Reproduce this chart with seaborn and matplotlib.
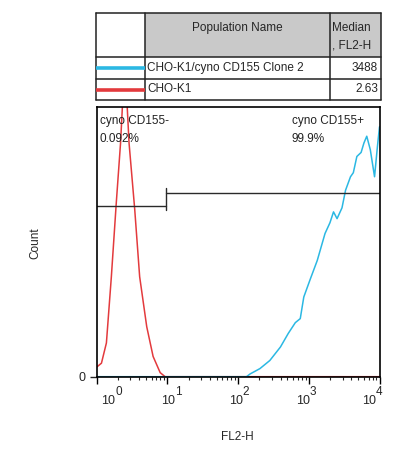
import matplotlib
matplotlib.use("Agg")
import matplotlib.pyplot as plt
import matplotlib.transforms as mtrans
from matplotlib.patches import Rectangle
from matplotlib.ticker import LogLocator, NullFormatter
import numpy as np
import pandas as pd
import seaborn as sns

# values: FL2-H as log10 position, count (axis top = 200)
red_log = [0.00, 0.07, 0.14, 0.21, 0.28, 0.34, 0.40, 0.46, 0.54, 0.61, 0.71, 0.80, 0.90, 0.97, 2.0, 4.0]
red_count = [7, 10, 25, 74, 129, 173, 235, 173, 124, 74, 37, 15, 3, 0, 0, 0]

blue_log = [0.0, 1.0, 2.0, 2.12, 2.17, 2.31, 2.45, 2.60, 2.71, 2.81, 2.88, 2.93, 3.02, 3.12,
            3.23, 3.30, 3.35, 3.40, 3.47, 3.52, 3.59, 3.63, 3.68, 3.74, 3.78, 3.82, 3.87,
            3.93, 3.97, 4.0]
blue_count = [0, 0, 0, 0, 2, 6, 12, 22, 32, 40, 43, 59, 72, 86, 106, 114, 122, 117, 125,
              138, 148, 151, 163, 166, 173, 178, 168, 148, 170, 185]

populations = ["CHO-K1/cyno CD155 Clone 2", "CHO-K1"]
medians = ["3488", "2.63"]
pop_colors = ["#2bb8e3", "#e33a3d"]

gate_names = ["cyno CD155-", "cyno CD155+"]
gate_pcts = ["0.092%", "99.9%"]
gate_split = 10 ** 0.98
gate_levels = [126.5, 136.3]

tick_exps = [0, 1, 2, 3, 4]
tick_label_shift = [12, 1, -2, -6, -10]  # px, labels sit a bit off the ticks

sns.set_style("white")
plt.rcParams["font.family"] = ["Liberation Sans", "DejaVu Sans"]

W, H = 415, 450
fig = plt.figure(figsize=(W / 100, H / 100), dpi=100)

# ---- histogram panel
ax = fig.add_axes([96.5 / W, 1 - 376.7 / H, (379.5 - 96.5) / W, (376.7 - 106.5) / H])
df = pd.concat([
    pd.DataFrame({"fl2": 10 ** np.array(red_log), "count": red_count, "pop": populations[1]}),
    pd.DataFrame({"fl2": 10 ** np.array(blue_log), "count": blue_count, "pop": populations[0]}),
])
sns.lineplot(data=df, x="fl2", y="count", hue="pop", hue_order=[populations[1], populations[0]],
             palette=[pop_colors[1], pop_colors[0]], sort=False, estimator=None,
             linewidth=1.1, legend=False, ax=ax)
ax.set_xscale("log")
ax.set_xlim(1, 1e4)
ax.set_ylim(0, 200)

# gates
gc = "#2a2a2a"
ax.plot([1, gate_split], [gate_levels[0]] * 2, color=gc, lw=1.0)
ax.plot([gate_split, 1e4], [gate_levels[1]] * 2, color=gc, lw=1.0)
ax.plot([gate_split, gate_split], [123.5, 140], color=gc, lw=1.0)
ax.text(1.12, 194, gate_names[0] + "\n" + gate_pcts[0], fontsize=8.5, va="top",
        linespacing=1.7, color="#222222")
ax.text(10 ** 2.76, 194, gate_names[1] + "\n" + gate_pcts[1], fontsize=8.5, va="top",
        linespacing=1.7, color="#222222")

for s in ax.spines.values():
    s.set_color("black")
    s.set_linewidth(1.2)

ax.set_xticks([10 ** e for e in tick_exps])
ax.set_xticklabels([])
ax.xaxis.set_minor_locator(LogLocator(base=10, subs=np.arange(2, 10)))
ax.xaxis.set_minor_formatter(NullFormatter())
ax.tick_params(axis="x", which="major", direction="out", length=5, width=1, bottom=True, colors="black")
ax.tick_params(axis="x", which="minor", direction="out", length=2.5, width=0.8, bottom=True)
# decade labels: "10" with a raised exponent, flow-cytometry style
base_tr = mtrans.blended_transform_factory(ax.transData, ax.transAxes)
for e, dx in zip(tick_exps, tick_label_shift):
    ax.text(10 ** e, 0, "10", ha="center", va="center", fontsize=9, clip_on=False,
            transform=base_tr + mtrans.ScaledTranslation(dx / 100, -24.5 / 100, fig.dpi_scale_trans))
    ax.text(10 ** e, 0, str(e), ha="center", va="center", fontsize=8.5, clip_on=False,
            transform=base_tr + mtrans.ScaledTranslation((dx + 10) / 100, -15.5 / 100, fig.dpi_scale_trans))
ax.set_yticks([0])
ax.set_yticklabels(["0"])
ax.tick_params(axis="y", direction="out", length=5, width=1, left=True, labelsize=9, pad=3)
ax.set_xlabel("")
ax.set_ylabel("")
fig.text(35 / W, 1 - 243 / H, "Count", rotation=90, ha="center", va="center", fontsize=8.5)
fig.text(237 / W, 1 - 437 / H, "FL2-H", ha="center", va="center", fontsize=8.5)

# ---- population table
tx = fig.add_axes([96 / W, 1 - 100 / H, (381 - 96) / W, (100 - 13) / H])
tx.set_xlim(96, 381)
tx.set_ylim(100, 13)
tx.axis("off")
tx.add_patch(Rectangle((145, 13), 381 - 145, 57 - 13, facecolor="#c9c9c9", edgecolor="none"))
lc = "#222222"
for y in [13, 57, 79, 100]:
    tx.plot([96, 381], [y, y], color=lc, lw=1.1, clip_on=False)
for x in [96, 145, 330, 381]:
    tx.plot([x, x], [13, 100], color=lc, lw=1.1, clip_on=False)
tx.text(237.5, 28, "Population Name", ha="center", va="center", fontsize=8.5)
tx.text(332, 28, "Median", ha="left", va="center", fontsize=8.5)
tx.text(332, 46, ", FL2-H", ha="left", va="center", fontsize=8.5)
for y, name, med, col in zip([68, 89.5], populations, medians, pop_colors):
    tx.plot([96, 145], [y, y], color=col, lw=2.6, solid_capstyle="butt")
    tx.text(147, y, name, ha="left", va="center", fontsize=8.5)
    tx.text(378, y, med, ha="right", va="center", fontsize=8.5)

fig.savefig("out.png", dpi=100)
